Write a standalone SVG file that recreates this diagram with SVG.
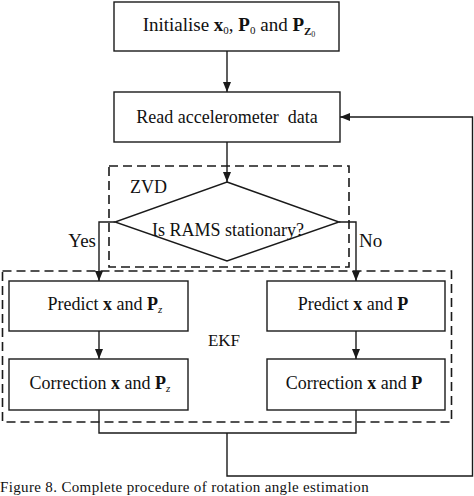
<svg xmlns="http://www.w3.org/2000/svg" width="474" height="496" viewBox="0 0 474 496">
<defs>
<style>
.box{fill:#fff;stroke:#1a1a1a;stroke-width:1.4}
.dash{fill:none;stroke:#1a1a1a;stroke-width:1.6;stroke-dasharray:9 5}
.ln{fill:none;stroke:#1a1a1a;stroke-width:1.4}
text{font-family:"Liberation Serif","Times New Roman",serif;fill:#111}
.t{font-size:18px}
.b{font-weight:bold}
.s{font-size:11px}
</style>
<marker id="ah" markerUnits="userSpaceOnUse" markerWidth="10" markerHeight="8" refX="10" refY="4" orient="auto">
<path d="M0,0 L10,4 L0,8 z" fill="#1a1a1a"/>
</marker>
</defs>
<rect width="474" height="496" fill="#fff"/>

<g id="zvd-group">
<rect class="dash" x="109" y="166" width="240" height="101"/>
<text class="t" x="130" y="193">ZVD</text>
</g>
<g id="ekf-group">
<rect class="dash" x="2.5" y="271" width="449" height="151"/>
<text x="224" y="346" font-size="17" text-anchor="middle">EKF</text>
</g>

<g id="connectors">
<line class="ln" x1="227" y1="51" x2="227" y2="92" marker-end="url(#ah)"/>
<line class="ln" x1="227" y1="142" x2="227" y2="182" marker-end="url(#ah)"/>
<polyline class="ln" points="115,222 99,222 99,281" marker-end="url(#ah)"/>
<polyline class="ln" points="339,222 356,222 356,281" marker-end="url(#ah)"/>
<line class="ln" x1="99" y1="331" x2="99" y2="359" marker-end="url(#ah)"/>
<line class="ln" x1="356" y1="331" x2="356" y2="359" marker-end="url(#ah)"/>
<polyline class="ln" points="99,410 99,433 356,433 356,410"/>
<polyline class="ln" points="227,433 227,476 472.5,476 472.5,117 340,117" marker-end="url(#ah)"/>
<text x="96" y="247" font-size="19" text-anchor="end">Yes</text>
<text x="359" y="247" font-size="19">No</text>
</g>

<g id="init">
<rect class="box" x="114" y="2" width="225" height="49"/>
<text class="t" x="229" y="31" text-anchor="middle" style="font-size:19px">Initialise <tspan class="b">x</tspan><tspan class="s" dy="3">0</tspan><tspan dy="-3">, </tspan><tspan class="b">P</tspan><tspan class="s" dy="3">0</tspan><tspan dy="-3">  and </tspan><tspan class="b">P</tspan><tspan class="b s" dy="4">Z</tspan><tspan style="font-size:8px" dy="2">0</tspan></text>
</g>

<g id="read">
<rect class="box" x="114" y="92" width="226" height="50"/>
<text class="t" x="227" y="123" text-anchor="middle" xml:space="preserve">Read accelerometer  data</text>
</g>

<g id="decision">
<polygon class="box" points="227,182 339,222 227,261 115,222"/>
<text class="t" x="228" y="236" text-anchor="middle">Is RAMS stationary?</text>
</g>

<g id="predict-z">
<rect class="box" x="9" y="281" width="179" height="50"/>
<text class="t" x="105" y="310" text-anchor="middle">Predict <tspan class="b">x</tspan> and <tspan class="b">P</tspan><tspan class="s" font-style="italic" dy="3">z</tspan></text>
</g>

<g id="predict">
<rect class="box" x="267" y="281" width="178" height="50"/>
<text class="t" x="353" y="310" text-anchor="middle">Predict <tspan class="b">x</tspan> and <tspan class="b">P</tspan></text>
</g>

<g id="correct-z">
<rect class="box" x="9" y="359" width="179" height="51"/>
<text class="t" x="100" y="389" text-anchor="middle">Correction <tspan class="b">x</tspan> and <tspan class="b">P</tspan><tspan class="s" font-style="italic" dy="3">z</tspan></text>
</g>

<g id="correct">
<rect class="box" x="267" y="359" width="178" height="51"/>
<text class="t" x="354" y="389" text-anchor="middle">Correction <tspan class="b">x</tspan> and <tspan class="b">P</tspan></text>
</g>

<text id="caption" x="0" y="492" font-size="15" letter-spacing="0.35">Figure 8. Complete procedure of rotation angle estimation</text>
</svg>
